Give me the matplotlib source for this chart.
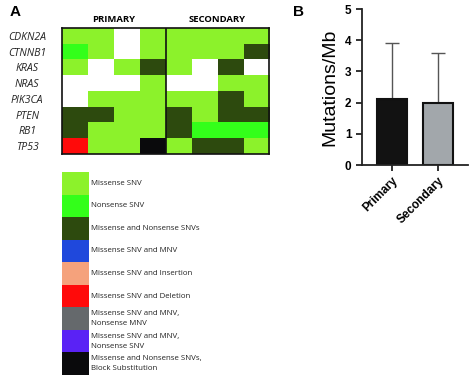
import matplotlib
matplotlib.use("Agg")
import matplotlib.pyplot as plt
import numpy as np
from matplotlib.colors import ListedColormap

W, H = 474, 379
DPI = 100

genes = ["CDKN2A", "CTNNB1", "KRAS", "NRAS", "PIK3CA", "PTEN", "RB1", "TP53"]
groups = ["PRIMARY", "SECONDARY"]
# 0 none, 1 missense SNV, 2 nonsense SNV, 3 missense+nonsense, 4 SNV+MNV,
# 5 SNV+insertion, 6 SNV+deletion, 7 SNV+MNV/nonsense MNV, 8 SNV+MNV/nonsense SNV,
# 9 missense+nonsense/block substitution
primary = [
    [1, 1, 0, 1],
    [2, 1, 0, 1],
    [1, 0, 1, 3],
    [0, 0, 0, 1],
    [0, 1, 1, 1],
    [3, 3, 1, 1],
    [3, 1, 1, 1],
    [6, 1, 1, 9],
]
secondary = [
    [1, 1, 1, 1],
    [1, 1, 1, 3],
    [1, 0, 3, 0],
    [0, 0, 1, 1],
    [1, 1, 3, 1],
    [3, 1, 3, 3],
    [3, 2, 2, 2],
    [1, 3, 3, 1],
]
legend_labels = [
    "Missense SNV",
    "Nonsense SNV",
    "Missense and Nonsense SNVs",
    "Missense SNV and MNV",
    "Missense SNV and Insertion",
    "Missense SNV and Deletion",
    "Missense SNV and MNV,\nNonsense MNV",
    "Missense SNV and MNV,\nNonsense SNV",
    "Missense and Nonsense SNVs,\nBlock Substitution",
]
colors = ["#ffffff", "#8cf22b", "#33ff1a", "#2d4a0e", "#1f48dc",
          "#f5a27c", "#ff0a0a", "#65696c", "#5a22f5", "#0a0a0c"]

bar_cats = ["Primary", "Secondary"]
bar_vals = [2.1, 2.0]
bar_err = [1.8, 1.6]
bar_colors = ["#121212", "#a2a7ab"]

fig = plt.figure(figsize=(W / DPI, H / DPI), dpi=DPI)

def ax_px(x0, y0, x1, y1):
    return fig.add_axes([x0 / W, 1 - y1 / H, (x1 - x0) / W, (y1 - y0) / H])

# ---- Heatmap ----
cmap = ListedColormap(colors)
data = np.hstack([np.array(primary), np.array(secondary)])
axh = ax_px(62, 28, 269, 154)
axh.imshow(data, cmap=cmap, vmin=-0.5, vmax=9.5, aspect="auto",
           interpolation="nearest")
axh.set_xticks([])
axh.set_yticks(range(len(genes)))
axh.set_yticklabels(genes, fontstyle="italic", fontsize=7.6,
                    family="Open Sans", color="#222222")
axh.tick_params(axis="y", length=0, pad=25)
for lab in axh.get_yticklabels():
    lab.set_horizontalalignment("center")
axh.axvline(3.5, color="#111111", lw=1.2)
for s in axh.spines.values():
    s.set_linewidth(1.2)
    s.set_color("#111111")
ncol = len(primary[0])
for i, g in enumerate(groups):
    axh.text(i * ncol + (ncol - 1) / 2, -0.75, g, ha="center", va="bottom",
             fontsize=6.8, fontweight="bold", family="Open Sans")

fig.text(10 / W, 1 - 12 / H, "A", fontsize=11, fontweight="bold",
         family="Liberation Sans", ha="left", va="center")

# ---- Legend ----
axl = ax_px(62, 172, 89, 375)
axl.imshow(np.arange(1, 10).reshape(-1, 1), cmap=cmap, vmin=-0.5, vmax=9.5,
           aspect="auto", interpolation="nearest")
axl.set_xticks([])
axl.set_yticks([])
for s in axl.spines.values():
    s.set_visible(False)
for i, lab in enumerate(legend_labels):
    axl.text(0.57, i, lab, ha="left", va="center", fontsize=5.7,
             family="Open Sans", color="#222222", linespacing=1.6,
             transform=axl.transData, clip_on=False)

# ---- Bar chart ----
axb = ax_px(362, 9, 468, 165)
x = np.arange(len(bar_cats))
axb.bar(x, bar_vals, width=0.66, color=bar_colors, edgecolor="#111111",
        linewidth=1.5, zorder=2)
axb.errorbar(x, bar_vals, yerr=[[0] * len(bar_err), bar_err], fmt="none",
             ecolor="#555555", elinewidth=1.0, capsize=5, capthick=1.0, zorder=1)
axb.set_xlim(-0.65, 1.65)
axb.set_ylim(0, 5)
axb.set_yticks(range(6))
axb.set_xticks(x)
axb.set_xticklabels(bar_cats, rotation=45, ha="right", rotation_mode="anchor",
                    fontsize=8.5, fontweight="bold", family="Liberation Sans")
for lab in axb.get_yticklabels():
    lab.set_fontweight("bold")
    lab.set_fontsize(8.5)
    lab.set_family("Liberation Sans")
axb.set_ylabel("Mutations/Mb", fontsize=14, family="Liberation Sans",
               labelpad=5)
for s in ["top", "right"]:
    axb.spines[s].set_visible(False)
for s in ["left", "bottom"]:
    axb.spines[s].set_linewidth(1.3)
    axb.spines[s].set_color("#222222")
axb.tick_params(axis="both", length=4, width=1.3, color="#222222")
axb.tick_params(axis="x", pad=3)

fig.text(298 / W, 1 - 12 / H, "B", fontsize=11, fontweight="bold",
         family="Liberation Sans", ha="center", va="center")

fig.savefig("out.png", dpi=DPI)
